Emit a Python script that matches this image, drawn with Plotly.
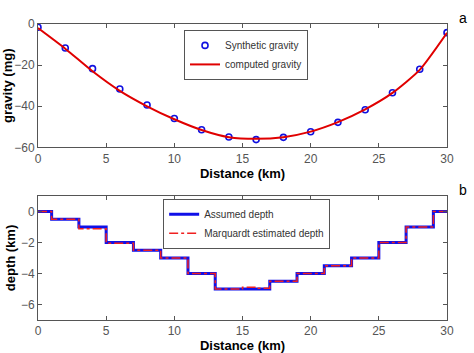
import plotly.graph_objects as go

# Gravity profile
dist_obs = [0, 2, 4, 6, 8, 10, 12, 14, 16, 18, 20, 22, 24, 26, 28, 30]
synthetic_gravity = [-1.6, -11.7, -21.7, -31.6, -39.4, -45.9, -51.4, -54.9, -56.2,
                     -55.1, -52.4, -47.8, -41.7, -33.4, -22.0, -4.2]
computed_gravity = [-2.0, -12.0, -23.0, -32.5, -40.0, -46.3, -51.5, -55.0, -55.8,
                    -55.0, -52.3, -47.7, -41.5, -33.5, -22.3, -4.3]

# Depth model (cell edges, 1 km cells) -- last value repeated at x=30
dist_edges = list(range(0, 31))
assumed_depth = [0, -0.5, -0.5, -1, -1, -2, -2, -2.5, -2.5, -3, -3, -4, -4, -5, -5,
                 -5, -5, -4.5, -4.5, -4, -4, -3.5, -3.5, -3, -3, -2, -2, -1, -1, 0, 0]
estimated_depth = [0, -0.5, -0.5, -1.12, -1.12, -2.05, -2.05, -2.5, -2.5, -3, -3, -4, -4,
                   -5, -5, -4.88, -4.95, -4.5, -4.5, -4, -4, -3.5, -3.5, -3, -3, -2, -2,
                   -1, -1, 0, 0]

xticks = [0, 5, 10, 15, 20, 25, 30]
gticks = [0, -20, -40, -60]
dticks = [0, -2, -4, -6]

fig = go.Figure()
fig.add_trace(go.Scatter(x=dist_obs, y=synthetic_gravity, mode="markers",
                         name="Synthetic gravity",
                         marker=dict(symbol="circle-open", color="#1010e0", size=6,
                                     line=dict(width=1.6, color="#1010e0")),
                         xaxis="x", yaxis="y", legend="legend"))
fig.add_trace(go.Scatter(x=dist_obs, y=computed_gravity, mode="lines",
                         name="computed gravity", line=dict(color="#e00000", width=2,
                                                            shape="spline", smoothing=0.6),
                         xaxis="x", yaxis="y", legend="legend"))
fig.add_trace(go.Scatter(x=dist_edges, y=assumed_depth, mode="lines",
                         name="Assumed depth", line=dict(color="#1010e8", width=3, shape="hv"),
                         xaxis="x2", yaxis="y2", legend="legend2"))
fig.add_trace(go.Scatter(x=dist_edges, y=estimated_depth, mode="lines",
                         name="Marquardt estimated depth",
                         line=dict(color="#f02020", width=1.5, shape="hv", dash="dashdot"),
                         xaxis="x2", yaxis="y2", legend="legend2"))

axis_common = dict(showline=True, linecolor="#555555", linewidth=1, mirror="ticks",
                   ticks="inside", ticklen=4, tickcolor="#555555", showgrid=False,
                   zeroline=False, automargin=False,
                   tickfont=dict(family="Arial", size=12, color="#555555"))
title_font = dict(family="Arial", size=13, color="black")

fig.update_layout(
    width=474, height=353, plot_bgcolor="white", paper_bgcolor="white",
    margin=dict(l=38, r=27, t=24, b=33),
    xaxis=dict(domain=[0, 1], range=[0, 30], tickvals=xticks, anchor="y",
               title=dict(text="<b>Distance (km)</b>", font=title_font, standoff=2),
               **axis_common),
    yaxis=dict(domain=[0.583, 1], range=[-60, 0], tickvals=gticks, anchor="x",
               title=dict(text="<b>gravity (mg)</b>", font=title_font, standoff=2),
               **axis_common),
    xaxis2=dict(domain=[0, 1], range=[0, 30], tickvals=xticks, anchor="y2",
                title=dict(text="<b>Distance (km)</b>", font=title_font, standoff=2),
                **axis_common),
    yaxis2=dict(domain=[0, 0.419], range=[-7, 1], tickvals=dticks, anchor="x2",
                title=dict(text="<b>depth (km)</b>", font=title_font, standoff=2),
                **axis_common),
    legend=dict(x=0.357, y=0.98, xanchor="left", yanchor="top",
                bordercolor="#555555", borderwidth=1, bgcolor="white",
                font=dict(family="Arial", size=10, color="#333333"),
                tracegroupgap=0, itemwidth=30),
    legend2=dict(x=0.306, y=0.41, xanchor="left", yanchor="top",
                 bordercolor="#555555", borderwidth=1, bgcolor="white",
                 font=dict(family="Arial", size=10, color="#333333"),
                 tracegroupgap=0, itemwidth=30),
    annotations=[
        dict(text="a", x=1.025, y=1.02, xref="paper", yref="paper", showarrow=False,
             font=dict(family="Arial", size=14, color="black"), xanchor="left", yanchor="middle"),
        dict(text="b", x=1.025, y=0.44, xref="paper", yref="paper", showarrow=False,
             font=dict(family="Arial", size=14, color="black"), xanchor="left", yanchor="middle"),
    ],
)

fig.write_html("out.html")
